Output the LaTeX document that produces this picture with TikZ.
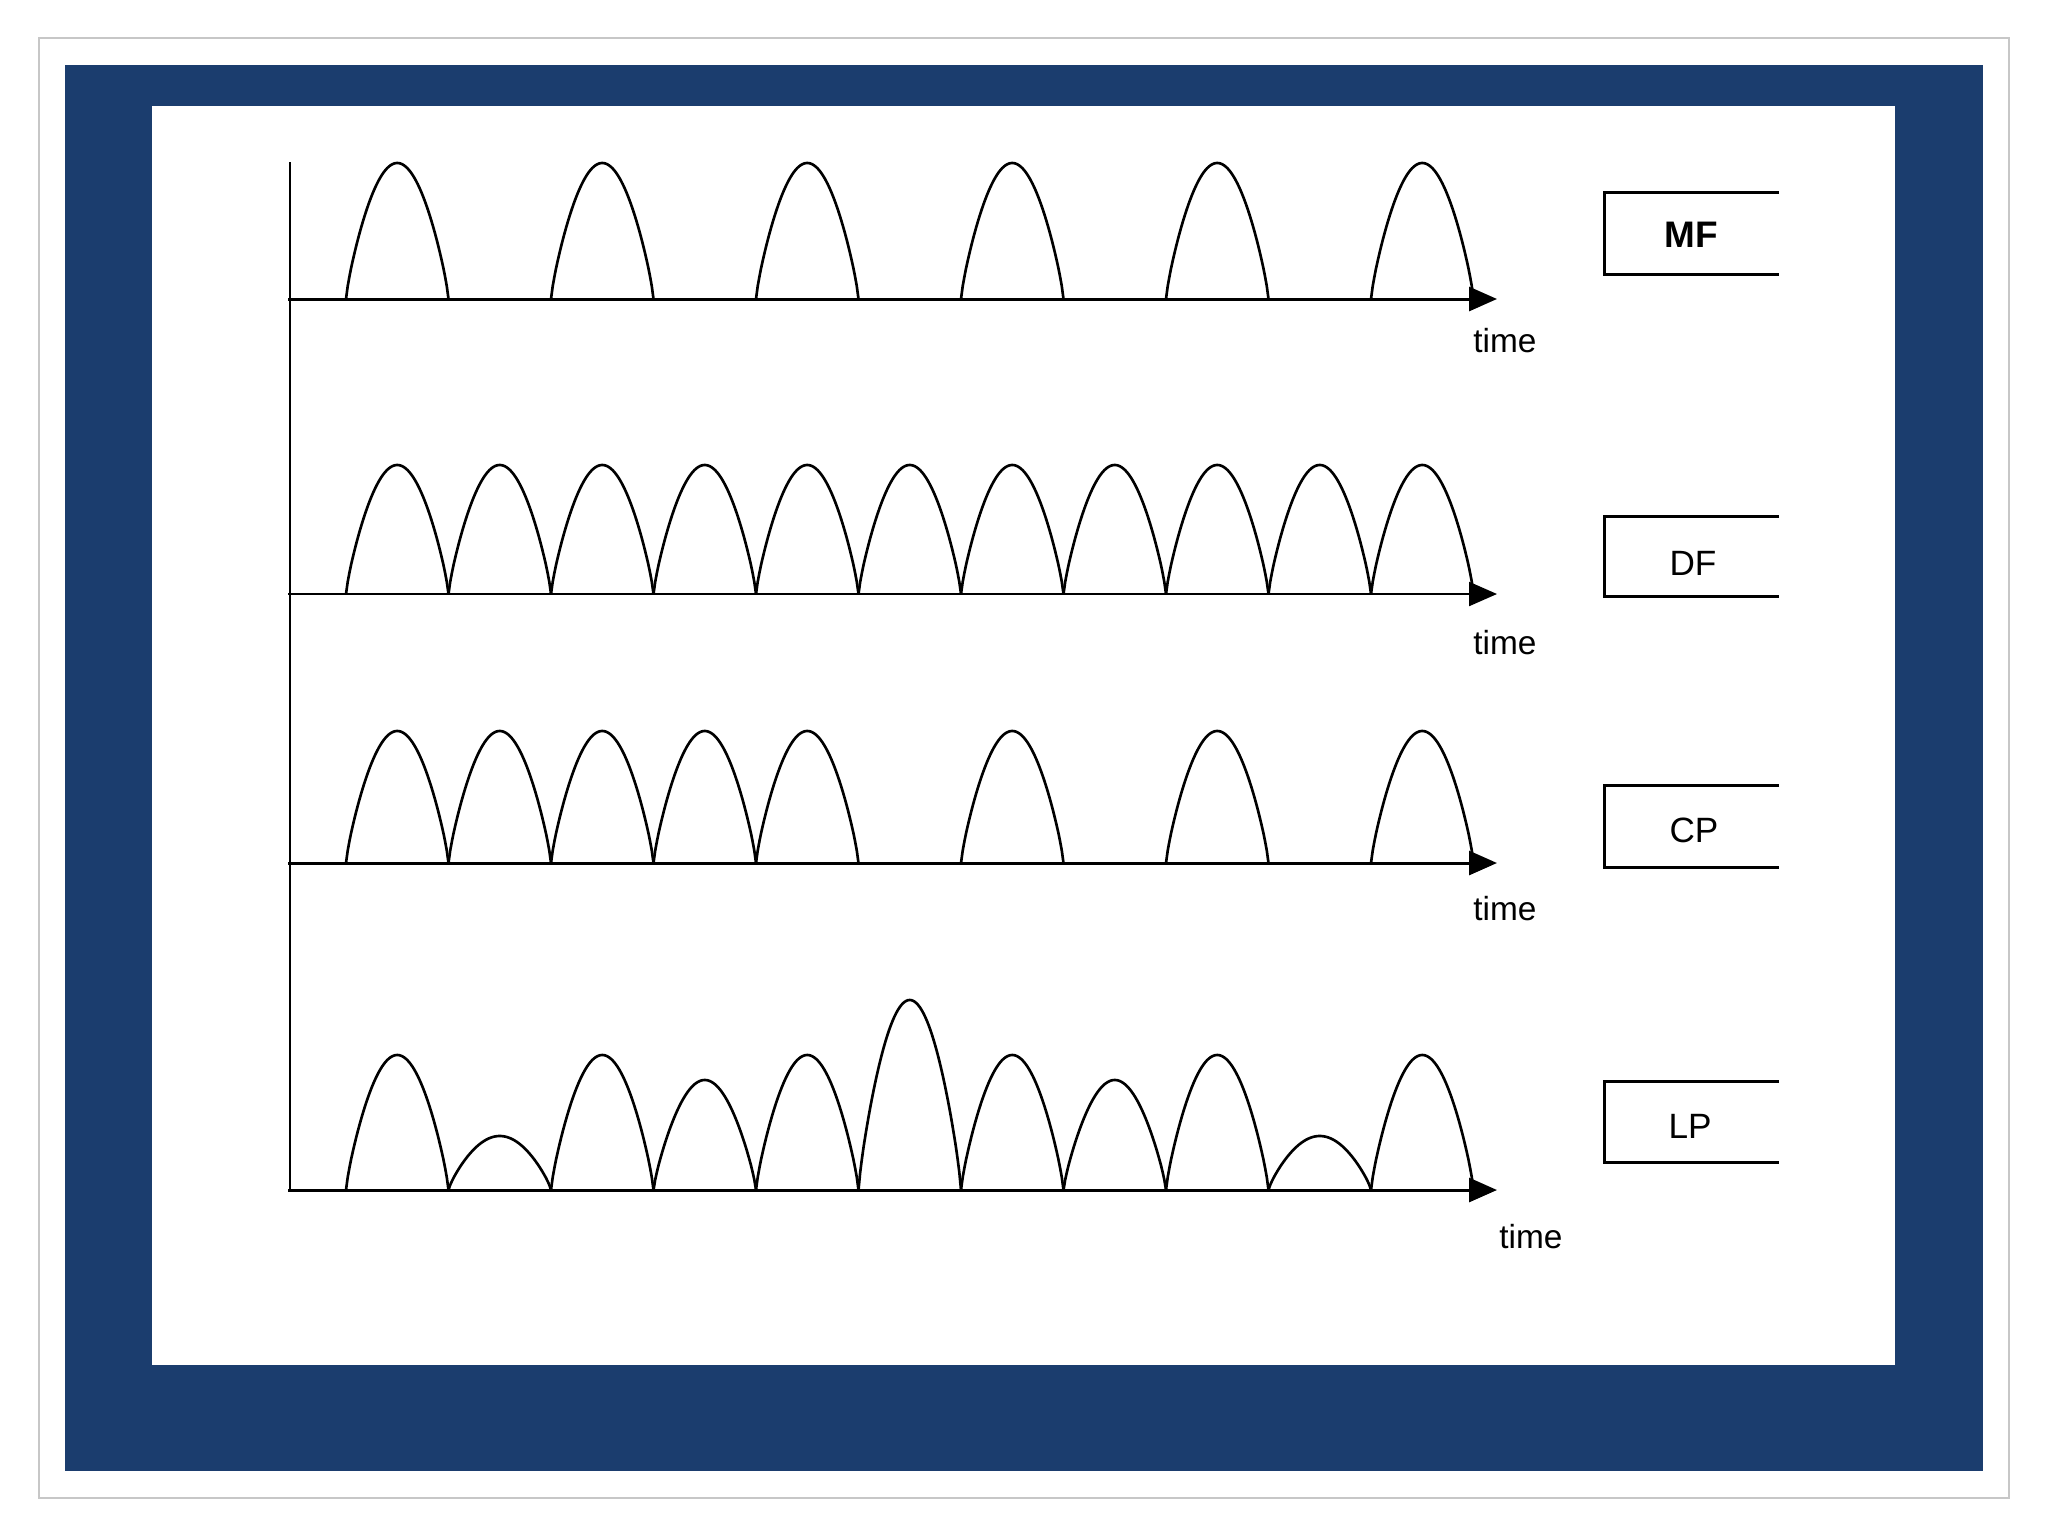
\documentclass[tikz,border=0pt]{standalone}
\usepackage{fontspec}
\setmainfont{Liberation Sans}
\usetikzlibrary{arrows.meta}
\definecolor{frameblue}{RGB}{27,61,110}
\begin{document}
\begin{tikzpicture}[x=0.01cm,y=-0.01cm,
  axisline/.style={line width=0.85pt, -{Triangle[length=2.8mm,width=2.4mm]}},
  wave/.style={line width=0.75pt, line join=round},
  boxline/.style={line width=0.85pt},
  lab/.style={font=\fontsize{10}{12}\selectfont, inner sep=0pt},
  timelab/.style={font=\fontsize{9.5}{11}\selectfont, inner sep=0pt}
]
\useasboundingbox (0,0) rectangle (2048,1536);
\fill[white] (0,0) rectangle (2048,1536);
\draw[black!22, line width=0.7pt] (39,38) rectangle (2009,1498);
\fill[frameblue] (65,65) rectangle (1983,1471);
\fill[white] (152,106) rectangle (1895,1365);

% vertical axis
\coordinate (vtop) at (290,162);
\coordinate (vbot) at (290,1191);
\draw[line width=0.85pt] (vtop) -- (vbot);

% horizontal axes
\foreach \n/\y/\w in {1/299/0.85pt,2/594/0.65pt,3/863/0.85pt,4/1190/0.85pt}{
  \coordinate (o\n) at (288,\y);
  \coordinate (e\n) at (1497,\y);
  \draw[axisline, line width=\w] (o\n) -- (e\n);
}

% time labels
\node[timelab] (t1) at (1505,341) {time};
\node[timelab] (t2) at (1505,643) {time};
\node[timelab] (t3) at (1505,909) {time};
\node[timelab] (t4) at (1531,1237) {time};

% MF
\foreach \k in {0,2,...,10}
  \draw[wave] plot[domain=0:180,samples=61] ({346+\k*102.5+\x/180*102.5},{299-136*(sin(\x))^0.8});
% DF
\foreach \k in {0,...,10}
  \draw[wave] plot[domain=0:180,samples=61] ({346+\k*102.5+\x/180*102.5},{594-129*(sin(\x))^0.8});
% CP
\foreach \k in {0,1,2,3,4,6,8,10}
  \draw[wave] plot[domain=0:180,samples=61] ({346+\k*102.5+\x/180*102.5},{863-132*(sin(\x))^0.8});
% LP
\foreach \k/\h in {0/135,1/54,2/135,3/110,4/135,5/190,6/135,7/110,8/135,9/54,10/135}
  \draw[wave] plot[domain=0:180,samples=61] ({346+\k*102.5+\x/180*102.5},{1190-\h*(sin(\x))^0.8});

% label boxes (open on the right)
\draw[boxline] (1779,192) -- (1604,192) -- (1604,274) -- (1779,274);
\node[lab, font=\fontsize{10.5}{12}\selectfont\bfseries] (mf) at (1691,235) {MF};
\draw[boxline] (1779,516) -- (1604,516) -- (1604,596) -- (1779,596);
\node[lab] (df) at (1693,563) {DF};
\draw[boxline] (1779,785) -- (1604,785) -- (1604,867) -- (1779,867);
\node[lab] (cp) at (1694,830) {CP};
\draw[boxline] (1779,1081) -- (1604,1081) -- (1604,1162) -- (1779,1162);
\node[lab] (lp) at (1690,1126) {LP};
\end{tikzpicture}
\end{document}
